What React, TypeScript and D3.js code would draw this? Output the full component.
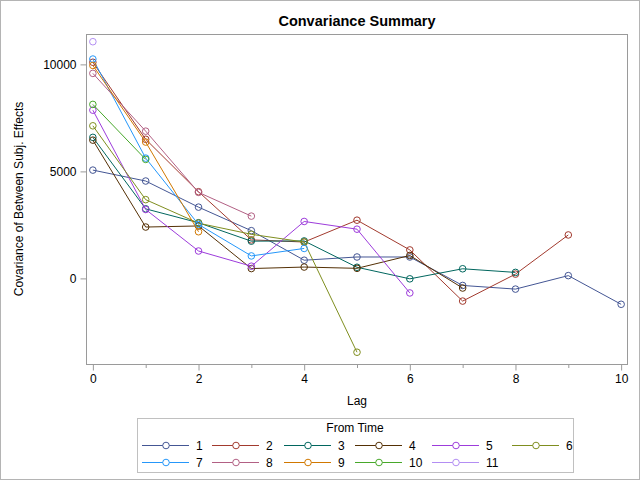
import React, { useEffect, useRef } from "react";
import * as d3 from "d3";

// covariance by lag, one array per "From Time" group
const fromTime = ["1", "2", "3", "4", "5", "6", "7", "8", "9", "10", "11"];
const s1 = [5060, 4550, 3330, 2230, 850, 1000, 1000, -330, -500, 130, -1210];
const s2 = [10100, 6500, 4050, 1800, 1700, 2720, 1330, -1060, 200, 2030];
const s3 = [6590, 3250, 2600, 1740, 1750, 520, -20, 450, 280];
const s4 = [6460, 2400, 2450, 460, 530, 470, 1070, -450];
const s5 = [7860, 3220, 1280, 570, 2660, 2300, -680];
const s6 = [7130, 3680, 2580, 2060, 1700, -3450];
const s7 = [10250, 5620, 2520, 1050, 1400];
const s8 = [9580, 6880, 4020, 2910];
const s9 = [9950, 6370, 2180];
const s10 = [8130, 5560];
const s11 = [11060];
const seriesValues = [s1, s2, s3, s4, s5, s6, s7, s8, s9, s10, s11];

const xTicks = [0, 2, 4, 6, 8, 10];
const xMinor = [1, 3, 5, 7, 9];
const yTicks = [0, 5000, 10000];

const colors = ["#445694", "#A23A2E", "#01665E", "#543005", "#9D3CDB", "#7F8E1F",
  "#2597FA", "#B26084", "#D17800", "#47A82A", "#B38EF3"];

const font = "'Liberation Sans', Arial, sans-serif";

const App: React.FC = (): JSX.Element => {
  const ref = useRef<SVGSVGElement>(null);
  useEffect(() => {
    const svg = d3.select(ref.current);
    svg.selectAll("*").remove();

    const left = 86, right = 628, top = 34, bottom = 364;
    const x = d3.scaleLinear().domain([-0.13, 10.13]).range([left, right]);
    const y = d3.scaleLinear().domain([-4000, 11420]).range([bottom, top]);

    svg.append("rect")
      .attr("x", 0.5).attr("y", 0.5).attr("width", 639).attr("height", 479)
      .attr("fill", "#fff").attr("stroke", "#b4b4b4");

    svg.append("text")
      .attr("x", 357).attr("y", 26)
      .attr("text-anchor", "middle")
      .style("font", `bold 14.5px ${font}`)
      .text("Convariance Summary");

    // frame
    svg.append("rect")
      .attr("x", left + 0.5).attr("y", top + 0.5)
      .attr("width", right - left - 1).attr("height", bottom - top)
      .attr("fill", "none").attr("stroke", "#9a9a9a");

    const xAxis = svg.append("g")
      .attr("transform", `translate(0,${bottom + 0.5})`)
      .call(d3.axisBottom(x).tickValues(xTicks).tickSize(6).tickSizeOuter(0).tickFormat(d3.format("d")));
    xAxis.select(".domain").remove();
    xAxis.selectAll("line").attr("stroke", "#9a9a9a");
    xAxis.selectAll("text").style("font", `12px ${font}`).attr("fill", "#000").attr("dy", "0.71em").attr("y", 9.5);

    svg.append("g")
      .selectAll("line")
      .data(xMinor)
      .enter().append("line")
      .attr("x1", d => x(d) + 0.5).attr("x2", d => x(d) + 0.5)
      .attr("y1", bottom).attr("y2", bottom + 4)
      .attr("stroke", "#9a9a9a");

    const yAxis = svg.append("g")
      .attr("transform", `translate(${left + 0.5},0)`)
      .call(d3.axisLeft(y).tickValues(yTicks).tickSize(6).tickSizeOuter(0).tickFormat(d3.format("d")));
    yAxis.select(".domain").remove();
    yAxis.selectAll("line").attr("stroke", "#9a9a9a");
    yAxis.selectAll("text").style("font", `12px ${font}`).attr("fill", "#000").attr("x", -10);

    svg.append("text")
      .attr("x", 357).attr("y", 405)
      .attr("text-anchor", "middle")
      .style("font", `12px ${font}`)
      .text("Lag");

    svg.append("text")
      .attr("transform", `translate(23,${(top + bottom) / 2}) rotate(-90)`)
      .attr("text-anchor", "middle")
      .style("font", `12px ${font}`)
      .text("Covariance of Between Subj. Effects");

    const line = d3.line<number>()
      .x((d, i) => x(i))
      .y(d => y(d));

    seriesValues.forEach((vals, k) => {
      const g = svg.append("g");
      g.append("path")
        .attr("d", line(vals) || "")
        .attr("fill", "none")
        .attr("stroke", colors[k])
        .attr("stroke-width", 1);
      g.selectAll("circle")
        .data(vals)
        .enter().append("circle")
        .attr("cx", (d, i) => x(i))
        .attr("cy", d => y(d))
        .attr("r", 3.3)
        .attr("fill", "none")
        .attr("stroke", colors[k]);
    });

    // legend
    const lg = svg.append("g");
    lg.append("rect")
      .attr("x", 137.5).attr("y", 418.5).attr("width", 436).attr("height", 54)
      .attr("fill", "none").attr("stroke", "#c0c0c0");
    lg.append("text")
      .attr("x", 355).attr("y", 432)
      .attr("text-anchor", "middle")
      .style("font", `12px ${font}`)
      .text("From Time");

    const colX = [142, 212, 284, 355, 432, 512];
    const rowY = [445.5, 462.5];
    fromTime.forEach((name, k) => {
      const cx = colX[k % 6];
      const cy = rowY[Math.floor(k / 6)];
      const e = lg.append("g");
      e.append("line")
        .attr("x1", cx).attr("x2", cx + 47)
        .attr("y1", cy).attr("y2", cy)
        .attr("stroke", colors[k]);
      e.append("circle")
        .attr("cx", cx + 24).attr("cy", cy)
        .attr("r", 3.3)
        .attr("fill", "#fff")
        .attr("stroke", colors[k]);
      e.append("text")
        .attr("x", cx + 54).attr("y", cy + 4.3)
        .style("font", `12px ${font}`)
        .text(name);
    });
  });
  return (
    <div>
      <svg ref={ref} width={640} height={480}
           style={{ position: "absolute", left: 0, top: 0, background: "#fff" }}></svg>
    </div>
  );
};

export default App;
